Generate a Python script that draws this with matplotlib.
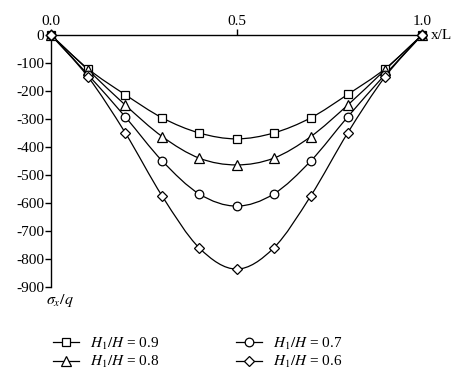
import numpy as np
import matplotlib.pyplot as plt
from matplotlib.path import Path
from matplotlib.patches import PathPatch
from matplotlib.lines import Line2D

plt.rcParams['font.family'] = 'Liberation Serif'
plt.rcParams['mathtext.fontset'] = 'stix'

# Datos
x = [0.0, 0.1, 0.2, 0.3, 0.4, 0.5, 0.6, 0.7, 0.8, 0.9, 1.0]
s09 = [0, -121, -213, -296, -350, -371, -350, -296, -212, -121, 0]
s08 = [0, -125, -250, -363, -440, -464, -440, -363, -250, -125, 0]
s07 = [0, -142, -292, -450, -568, -611, -568, -450, -292, -142, 0]
s06 = [0, -150, -349, -576, -761, -836, -761, -575, -349, -150, 0]
etiquetas = ['0.9', '0.8', '0.7', '0.6']
marcadores = ['s', '^', 'o', 'D']
tamanos = [6.0, 6.5, 6.2, 5.2]

fig = plt.figure(figsize=(4.74, 3.86), dpi=100)
ax = fig.add_axes([0.1076, 0.2565, 0.7827, 0.6528])


def curva_suave(ax, xs, ys):
    # linea suavizada (tipo Excel) usando curvas de Bezier
    xs = np.asarray(xs, float)
    ys = np.asarray(ys, float)
    n = len(xs)
    verts = [(xs[0], ys[0])]
    codes = [Path.MOVETO]
    for i in range(n - 1):
        x0, y0 = (xs[i - 1], ys[i - 1]) if i > 0 else (xs[i], ys[i])
        x3, y3 = (xs[i + 2], ys[i + 2]) if i + 2 < n else (xs[i + 1], ys[i + 1])
        c1 = (xs[i] + (xs[i + 1] - x0) / 6, ys[i] + (ys[i + 1] - y0) / 6)
        c2 = (xs[i + 1] - (x3 - xs[i]) / 6, ys[i + 1] - (y3 - ys[i]) / 6)
        verts += [c1, c2, (xs[i + 1], ys[i + 1])]
        codes += [Path.CURVE4] * 3
    ax.add_patch(PathPatch(Path(verts, codes), fill=False, lw=0.9,
                           color='black', zorder=2))


handles = []
for ys, m, ms, lab in zip([s09, s08, s07, s06], marcadores, tamanos, etiquetas):
    curva_suave(ax, x, ys)
    ax.plot(x, ys, linestyle='none', marker=m, markersize=ms,
            markerfacecolor='white', markeredgecolor='black',
            markeredgewidth=0.9, zorder=3, clip_on=False)
    handles.append(Line2D([], [], color='black', lw=0.9, marker=m,
                          markersize=ms, markerfacecolor='white',
                          markeredgecolor='black', markeredgewidth=0.9,
                          label=r'$H_1/H$ = ' + lab))

ax.set_xlim(0, 1)
ax.set_ylim(-900, 0)
ax.spines['right'].set_visible(False)
ax.spines['bottom'].set_visible(False)
ax.spines['left'].set_linewidth(1.0)
ax.spines['top'].set_linewidth(1.0)
ax.xaxis.tick_top()
ax.set_xticks([0.0, 0.5, 1.0])
ax.set_xticklabels(['0.0', '0.5', '1.0'])
ax.set_yticks(range(0, -901, -100))
ax.set_yticklabels([str(v) if v == 0 else '-' + str(-v) for v in range(0, -901, -100)])
ax.tick_params(axis='both', labelsize=11, length=4, width=1.0, direction='out', pad=1)

ax.text(1.025, 1.0, 'x/L', transform=ax.transAxes, fontsize=11,
        va='center', ha='left')
ax.text(0.025, -0.02, r'$\sigma_x/q$', transform=ax.transAxes, fontsize=11.5,
        va='top', ha='center')

fig.legend(handles=handles, ncol=2, loc='upper left',
           bbox_to_anchor=(0.095, 0.15), frameon=False, fontsize=11,
           handlelength=1.7, handletextpad=0.75, columnspacing=5.0,
           labelspacing=0.15, borderpad=0)

plt.savefig('out.png', dpi=100)
plt.close()
